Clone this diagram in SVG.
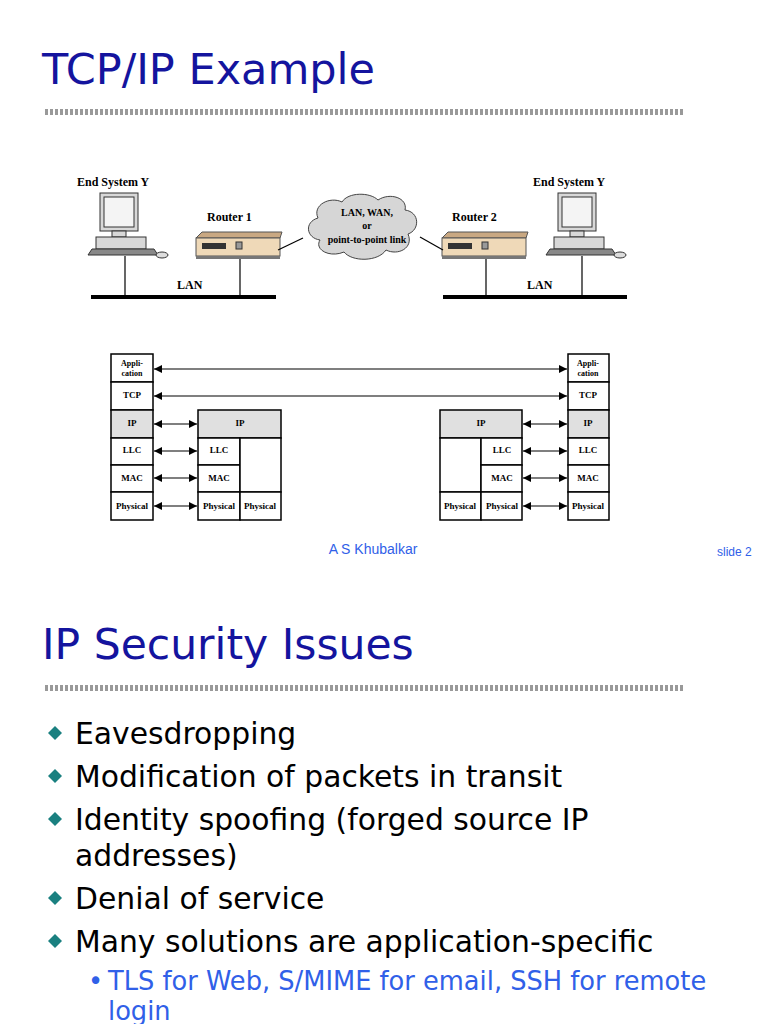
<svg xmlns="http://www.w3.org/2000/svg" width="768" height="1024" viewBox="0 0 768 1024">
<defs>
<style>
.title{font-family:"DejaVu Sans",sans-serif;font-size:43px;fill:#14149e}
.sep{stroke:#999;stroke-width:6;stroke-dasharray:3 2}
.s{font-family:"Liberation Serif",serif;font-weight:bold;font-size:12px;fill:#000}
.tb{font-family:"Liberation Serif",serif;font-weight:bold;font-size:9px;fill:#000;text-anchor:middle}
.box{fill:#fff;stroke:#000;stroke-width:1.5}
.ip{fill:#e0e0e0;stroke:#000;stroke-width:1.5}
.ln{stroke:#000;stroke-width:1.2;fill:none}
.bar{stroke:#000;stroke-width:4}
.b{font-family:"DejaVu Sans",sans-serif;font-size:29.8px;fill:#000}
.sb{font-family:"DejaVu Sans",sans-serif;font-size:25.7px;fill:#3060e8}
.foot{font-family:"Liberation Sans",sans-serif;font-size:14px;fill:#3060e8}
.pc{fill:#d8d8d8;stroke:#333;stroke-width:1}
.rt{fill:#efd9b8;stroke:#555;stroke-width:1}
</style>
<marker id="ah" viewBox="0 0 10 10" refX="10" refY="5" markerWidth="7" markerHeight="7" orient="auto-start-reverse"><path d="M0,0L10,5L0,10z" fill="#000"/></marker>
<path id="dia" d="M0,-7L7,0L0,7L-7,0z" fill="#1a8080"/>
<g id="pcg">
<rect x="12" y="0" width="38" height="38" class="pc"/>
<rect x="16" y="4" width="30" height="30" fill="#f4f4f4" stroke="#333"/>
<rect x="24" y="38" width="14" height="6" class="pc"/>
<rect x="8" y="44" width="50" height="12" class="pc"/>
<path d="M0,62L4,56H66L70,62Z" fill="#888" stroke="#333"/>
<ellipse cx="74" cy="62" rx="6" ry="3" fill="#ddd" stroke="#333"/>
</g>
<g id="rtg">
<path d="M0,6L6,0H86L84,6Z" fill="#c9a882" stroke="#555"/>
<rect x="0" y="6" width="84" height="18" class="rt"/>
<rect x="6" y="11" width="24" height="6" fill="#333"/>
<rect x="40" y="10" width="6" height="7" fill="#999" stroke="#333"/>
<rect x="0" y="24" width="84" height="3" fill="#777"/>
</g>
</defs>
<rect width="768" height="1024" fill="#fff"/>

<text class="title" x="42" y="84">TCP/IP Example</text>
<line class="sep" x1="45" y1="112" x2="685" y2="112"/>

<g id="network">
<text class="s" x="77" y="186">End System Y</text>
<text class="s" x="533" y="186">End System Y</text>
<text class="s" x="207" y="221">Router 1</text>
<text class="s" x="452" y="221">Router 2</text>
<g id="pc1"><use href="#pcg" x="88" y="193"/></g>
<g id="pc2"><use href="#pcg" x="546" y="193"/></g>
<g id="r1"><use href="#rtg" x="196" y="232"/></g>
<g id="r2"><use href="#rtg" x="442" y="232"/></g>
<g id="cloud">
<path d="M318,218C312,205 330,196 342,202C348,192 370,192 378,200C390,192 408,198 405,210C420,212 420,230 408,234C414,248 398,256 386,250C378,262 352,262 344,252C330,258 314,250 320,240C306,238 304,222 318,218Z" fill="#d6d6d6" stroke="#444" stroke-width="1"/>
<text class="tb" x="367" y="216" style="font-size:10px">LAN, WAN,</text>
<text class="tb" x="367" y="229" style="font-size:10px">or</text>
<text class="tb" x="367" y="243" style="font-size:10px">point-to-point link</text>
</g>
<line class="ln" x1="278" y1="250" x2="303" y2="238"/>
<line class="ln" x1="420" y1="237" x2="443" y2="250"/>
<line class="bar" x1="91" y1="297" x2="276" y2="297"/>
<line class="bar" x1="443" y1="297" x2="627" y2="297"/>
<line class="ln" x1="125" y1="256" x2="125" y2="297"/>
<line class="ln" x1="240" y1="259" x2="240" y2="297"/>
<line class="ln" x1="486" y1="259" x2="486" y2="297"/>
<line class="ln" x1="582" y1="256" x2="582" y2="297"/>
<text class="s" x="177" y="289">LAN</text>
<text class="s" x="527" y="289">LAN</text>
</g>

<g id="stackL">
<rect class="box" x="111" y="354" width="42" height="28"/>
<rect class="box" x="111" y="382" width="42" height="28"/>
<rect class="ip" x="111" y="410" width="42" height="28"/>
<rect class="box" x="111" y="438" width="42" height="27"/>
<rect class="box" x="111" y="465" width="42" height="27"/>
<rect class="box" x="111" y="492" width="42" height="28"/>
<text class="tb" x="132" y="366" style="font-size:8px">Appli-</text><text class="tb" x="132" y="376" style="font-size:8px">cation</text>
<text class="tb" x="132" y="398">TCP</text><text class="tb" x="132" y="426">IP</text>
<text class="tb" x="132" y="453">LLC</text><text class="tb" x="132" y="481">MAC</text>
<text class="tb" x="132" y="509">Physical</text>
</g>
<g id="stackR">
<rect class="box" x="568" y="354" width="41" height="28"/>
<rect class="box" x="568" y="382" width="41" height="28"/>
<rect class="ip" x="568" y="410" width="41" height="28"/>
<rect class="box" x="568" y="438" width="41" height="27"/>
<rect class="box" x="568" y="465" width="41" height="27"/>
<rect class="box" x="568" y="492" width="41" height="28"/>
<text class="tb" x="588" y="366" style="font-size:8px">Appli-</text><text class="tb" x="588" y="376" style="font-size:8px">cation</text>
<text class="tb" x="588" y="398">TCP</text><text class="tb" x="588" y="426">IP</text>
<text class="tb" x="588" y="453">LLC</text><text class="tb" x="588" y="481">MAC</text>
<text class="tb" x="588" y="509">Physical</text>
</g>
<g id="router1stack">
<rect class="ip" x="198" y="410" width="83" height="28"/>
<rect class="box" x="198" y="438" width="42" height="27"/>
<rect class="box" x="198" y="465" width="42" height="27"/>
<rect class="box" x="198" y="492" width="42" height="28"/>
<rect class="box" x="240" y="438" width="41" height="54"/>
<rect class="box" x="240" y="492" width="41" height="28"/>
<text class="tb" x="240" y="426">IP</text>
<text class="tb" x="219" y="453">LLC</text><text class="tb" x="219" y="481">MAC</text>
<text class="tb" x="219" y="509">Physical</text><text class="tb" x="260" y="509">Physical</text>
</g>
<g id="router2stack">
<rect class="ip" x="440" y="410" width="82" height="28"/>
<rect class="box" x="440" y="438" width="41" height="54"/>
<rect class="box" x="440" y="492" width="41" height="28"/>
<rect class="box" x="481" y="438" width="41" height="27"/>
<rect class="box" x="481" y="465" width="41" height="27"/>
<rect class="box" x="481" y="492" width="41" height="28"/>
<text class="tb" x="481" y="426">IP</text>
<text class="tb" x="460" y="509">Physical</text>
<text class="tb" x="502" y="453">LLC</text><text class="tb" x="502" y="481">MAC</text>
<text class="tb" x="502" y="509">Physical</text>
</g>
<g id="connectors" stroke="#000" stroke-width="1.2" marker-start="url(#ah)" marker-end="url(#ah)">
<line x1="154" y1="369" x2="567" y2="369"/>
<line x1="154" y1="396" x2="567" y2="396"/>
<line x1="154" y1="424" x2="197" y2="424"/>
<line x1="154" y1="451" x2="197" y2="451"/>
<line x1="154" y1="478" x2="197" y2="478"/>
<line x1="154" y1="506" x2="197" y2="506"/>
<line x1="523" y1="424" x2="567" y2="424"/>
<line x1="523" y1="451" x2="567" y2="451"/>
<line x1="523" y1="478" x2="567" y2="478"/>
<line x1="523" y1="506" x2="567" y2="506"/>
</g>

<text class="foot" x="373" y="554" text-anchor="middle">A S Khubalkar</text>
<text class="foot" x="717" y="556" style="font-size:12px">slide 2</text>

<text class="title" x="42" y="659" style="font-size:42.5px">IP Security Issues</text>
<line class="sep" x1="45" y1="688" x2="685" y2="688"/>

<use href="#dia" x="55" y="733"/>
<use href="#dia" x="55" y="776"/>
<use href="#dia" x="55" y="819"/>
<use href="#dia" x="55" y="898"/>
<use href="#dia" x="55" y="941"/>
<text class="b" x="75" y="744">Eavesdropping</text>
<text class="b" x="75" y="787">Modification of packets in transit</text>
<text class="b" x="75" y="830">Identity spoofing (forged source IP</text>
<text class="b" x="75" y="866">addresses)</text>
<text class="b" x="75" y="909">Denial of service</text>
<text class="b" x="75" y="952">Many solutions are application-specific</text>
<text class="sb" x="88" y="990">•</text>
<text class="sb" x="108" y="990">TLS for Web, S/MIME for email, SSH for remote</text>
<text class="sb" x="108" y="1020">login</text>
</svg>
